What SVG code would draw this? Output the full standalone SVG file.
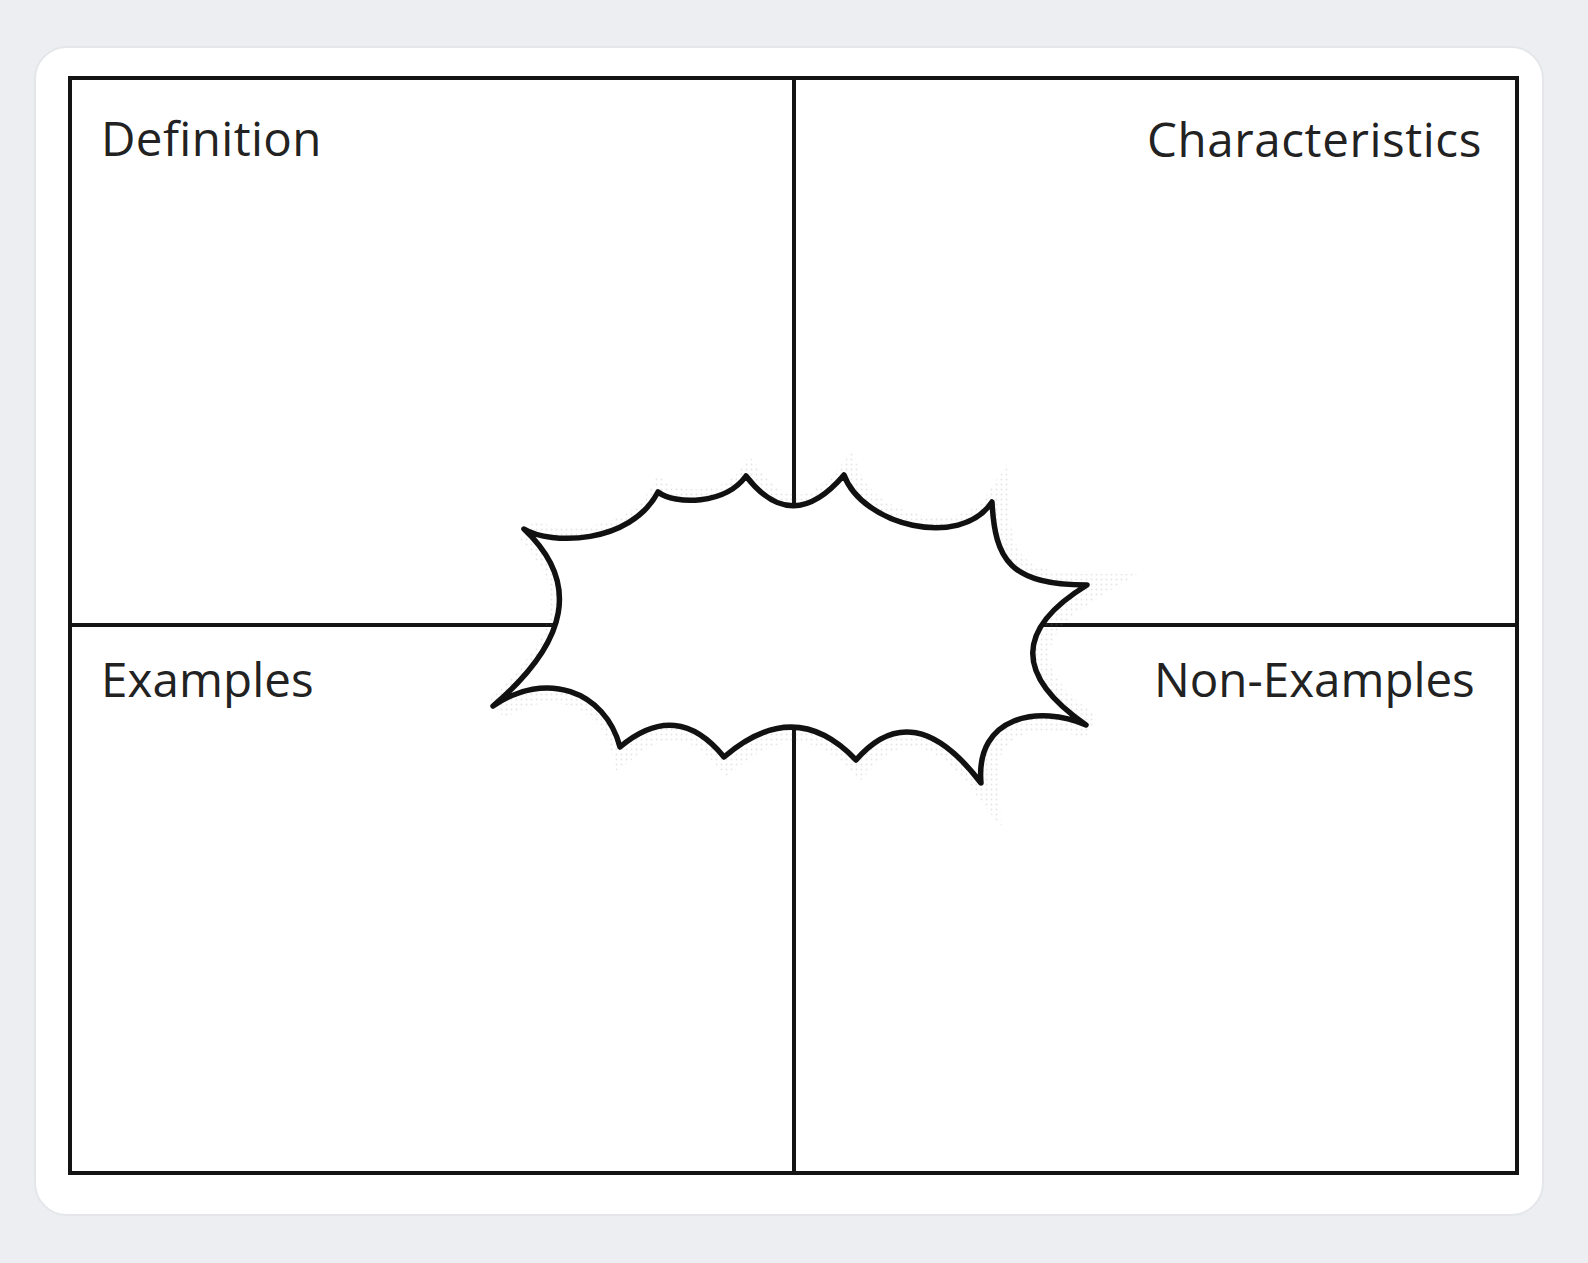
<svg xmlns="http://www.w3.org/2000/svg" width="1588" height="1263" viewBox="0 0 1588 1263">
  <style>
    .line { stroke: #141414; stroke-width: 4; fill: none; stroke-linecap: square; }
    .label { font-family: "Open Sans", "Liberation Sans", sans-serif; font-size: 47.5px; font-weight: 500; letter-spacing: 0.3px; fill: #222222; }
    .burst { fill: #ffffff; stroke: #111111; stroke-width: 5.5; stroke-linejoin: round; }
  </style>
  <defs>
    <pattern id="dots" width="5" height="5" patternUnits="userSpaceOnUse">
      <circle cx="2.5" cy="2.5" r="1" fill="#8a8a8a"/>
    </pattern>
    <path id="burstShape" d="M 524,529 C 550,545 630,545 658,492 C 675,505 725,505 746,476 Q 792,536 844,475 C 862,525 960,550 992,502 C 995,560 1010,585 1087,585 Q 979,651 1086,725 C 1040,705 975,715 981,783 Q 913,694 856,760 Q 795,696 724,757 Q 677,699 620,747 C 605,690 545,670 493,706 Q 608,608 524,529 Z"/>
  </defs>

  <rect x="0" y="0" width="1588" height="1263" fill="#eceef1"/>

  <g id="card">
    <rect x="35" y="47" width="1508" height="1168" rx="32" ry="32" fill="#ffffff" stroke="#e4e6ea" stroke-width="2"/>
  </g>

  <g id="frame">
    <rect class="line" x="70" y="78" width="1447" height="1095"/>
  </g>

  <g id="connectors">
    <line class="line" x1="794" y1="78" x2="794" y2="1173"/>
    <line class="line" x1="70" y1="625" x2="1517" y2="625"/>
  </g>

  <g id="definition">
    <text class="label" x="101" y="156" style="letter-spacing:0.4px">Definition</text>
  </g>
  <g id="characteristics">
    <text class="label" x="1147" y="157" style="letter-spacing:0.6px">Characteristics</text>
  </g>
  <g id="examples">
    <text class="label" x="101" y="697" style="letter-spacing:0.1px">Examples</text>
  </g>
  <g id="non-examples">
    <text class="label" x="1154" y="697" style="letter-spacing:0px">Non-Examples</text>
  </g>

  <g id="burst">
    <use href="#burstShape" transform="translate(4,2)" fill="none" stroke="url(#dots)" stroke-width="26" opacity="0.22"/>
    <use href="#burstShape" class="burst"/>
  </g>
</svg>
